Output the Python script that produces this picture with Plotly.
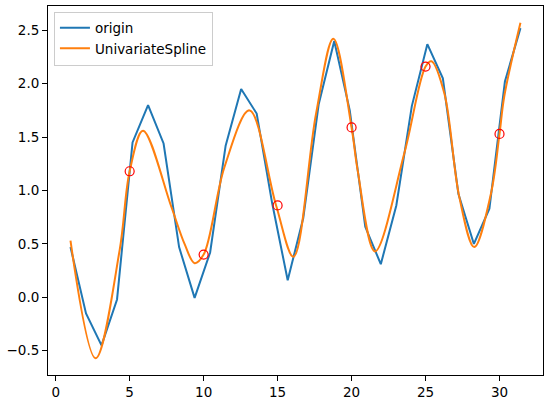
import plotly.graph_objects as go

# origin data (30 samples between 1 and 10*pi)
origin_x = [1.000, 2.049, 3.098, 4.146, 5.195, 6.244, 7.293, 8.342, 9.390, 10.439,
            11.488, 12.537, 13.586, 14.634, 15.683, 16.732, 17.781, 18.829, 19.878, 20.927,
            21.976, 23.025, 24.073, 25.122, 26.171, 27.220, 28.268, 29.317, 30.366, 31.416]
origin_y = [0.47, -0.15, -0.45, -0.02, 1.45, 1.80, 1.44, 0.47, -0.005, 0.42,
            1.42, 1.95, 1.72, 0.88, 0.16, 0.74, 1.81, 2.40, 1.75, 0.66,
            0.31, 0.86, 1.79, 2.37, 2.05, 0.97, 0.50, 0.83, 2.02, 2.52]

# UnivariateSpline curve
spline_x = [1.0, 2.70, 4.32, 5.0, 5.9, 7.81, 8.71, 9.39, 10.0, 11.41, 13.1, 14.9, 16.07,
            17.6, 18.77, 20.0, 20.41, 21.58, 23.57, 25.0, 25.4, 26.27, 27.28, 28.29,
            29.42, 30.0, 30.32, 31.416]
spline_y = [0.53, -0.57, 0.44, 1.18, 1.56, 0.85, 0.50, 0.32, 0.40, 1.22, 1.75, 0.86, 0.38,
            1.72, 2.42, 1.59, 1.19, 0.43, 1.35, 2.16, 2.21, 1.91, 0.94, 0.47,
            0.97, 1.53, 1.88, 2.57]

# sampled points (red circles)
pts_x = [5, 10, 15, 20, 25, 30]
pts_y = [1.18, 0.40, 0.86, 1.59, 2.16, 1.53]

fig = go.Figure()
fig.add_trace(go.Scatter(x=origin_x, y=origin_y, mode="lines", name="origin",
                         line=dict(color="#1f77b4", width=2)))
fig.add_trace(go.Scatter(x=spline_x, y=spline_y, mode="lines", name="UnivariateSpline",
                         line=dict(color="#ff7f0e", width=2, shape="spline", smoothing=1.0)))
fig.add_trace(go.Scatter(x=pts_x, y=pts_y, mode="markers", showlegend=False,
                         marker=dict(symbol="circle-open", size=9, color="red",
                                     line=dict(color="red", width=1.2))))

axis_common = dict(showline=True, linecolor="black", linewidth=1, mirror=True,
                   ticks="outside", ticklen=5, tickwidth=1, tickcolor="black",
                   showgrid=False, zeroline=False, automargin=False,
                   tickfont=dict(family="DejaVu Sans", size=13.5, color="black"))
fig.update_xaxes(range=[-0.52, 32.94], tickvals=[0, 5, 10, 15, 20, 25, 30], **axis_common)
fig.update_yaxes(range=[-0.727, 2.727], tickvals=[-0.5, 0, 0.5, 1.0, 1.5, 2.0, 2.5],
                 tickformat=".1f", **axis_common)

fig.update_layout(
    width=553, height=399,
    margin=dict(l=48, r=10, t=6, b=24, autoexpand=False),
    paper_bgcolor="white", plot_bgcolor="white",
    font=dict(family="DejaVu Sans", size=13.5, color="black"),
    legend=dict(x=0.012, y=0.985, xanchor="left", yanchor="top",
                bgcolor="rgba(255,255,255,0.8)", bordercolor="#cccccc", borderwidth=1,
                font=dict(family="DejaVu Sans", size=13.5, color="black"),
                tracegroupgap=0, itemwidth=30),
)

fig.write_html("out.html")
